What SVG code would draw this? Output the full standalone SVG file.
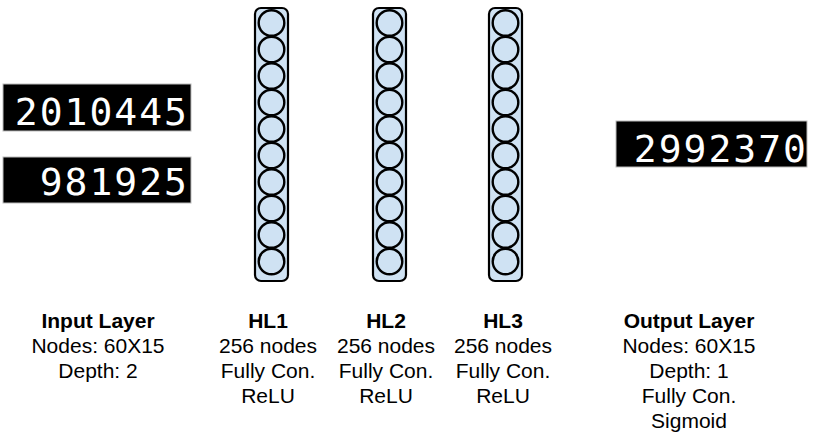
<svg xmlns="http://www.w3.org/2000/svg" width="814" height="440" viewBox="0 0 814 440">
<defs>
<style>
.box{fill:#000;stroke:#bbb;stroke-width:1}
.dig{font-family:"DejaVu Sans Mono","Liberation Mono",monospace;font-size:38px;letter-spacing:2px;fill:#fff;text-anchor:end}
.col{fill:#cfe2f3;stroke:#000;stroke-width:2.2}
.c{fill:none;stroke:#000;stroke-width:2.4}
.lbl{font-family:"Liberation Sans",Arial,sans-serif;font-size:21px;fill:#000;text-anchor:middle}
.b{font-weight:bold}
</style>
<g id="neurons">
<circle class="c" cx="0" cy="0" r="12.8"/>
</g>
</defs>
<rect width="814" height="440" fill="#fff"/>

<g id="input">
<rect class="box" x="3" y="84" width="188" height="47"/>
<text class="dig" x="189" y="125">2010445</text>
<rect class="box" x="3" y="157" width="188" height="46"/>
<text class="dig" x="189" y="195">981925</text>
<text class="lbl b" x="98" y="328">Input Layer</text>
<text class="lbl" x="98" y="353">Nodes: 60X15</text>
<text class="lbl" x="98" y="378">Depth: 2</text>
</g>

<g id="hl1">
<rect class="col" x="255" y="8" width="33" height="273" rx="6"/>
<g transform="translate(271.5,0)">
<use href="#neurons" y="23"/><use href="#neurons" y="49.5"/><use href="#neurons" y="76"/><use href="#neurons" y="102.5"/><use href="#neurons" y="129"/><use href="#neurons" y="155.5"/><use href="#neurons" y="182"/><use href="#neurons" y="208.5"/><use href="#neurons" y="235"/><use href="#neurons" y="261.5"/>
</g>
<text class="lbl b" x="268" y="328">HL1</text>
<text class="lbl" x="268" y="353">256 nodes</text>
<text class="lbl" x="268" y="378">Fully Con.</text>
<text class="lbl" x="268" y="403">ReLU</text>
</g>

<g id="hl2">
<rect class="col" x="373" y="8" width="33" height="273" rx="6"/>
<g transform="translate(389.5,0)">
<use href="#neurons" y="23"/><use href="#neurons" y="49.5"/><use href="#neurons" y="76"/><use href="#neurons" y="102.5"/><use href="#neurons" y="129"/><use href="#neurons" y="155.5"/><use href="#neurons" y="182"/><use href="#neurons" y="208.5"/><use href="#neurons" y="235"/><use href="#neurons" y="261.5"/>
</g>
<text class="lbl b" x="386" y="328">HL2</text>
<text class="lbl" x="386" y="353">256 nodes</text>
<text class="lbl" x="386" y="378">Fully Con.</text>
<text class="lbl" x="386" y="403">ReLU</text>
</g>

<g id="hl3">
<rect class="col" x="489" y="8" width="33" height="273" rx="6"/>
<g transform="translate(505.5,0)">
<use href="#neurons" y="23"/><use href="#neurons" y="49.5"/><use href="#neurons" y="76"/><use href="#neurons" y="102.5"/><use href="#neurons" y="129"/><use href="#neurons" y="155.5"/><use href="#neurons" y="182"/><use href="#neurons" y="208.5"/><use href="#neurons" y="235"/><use href="#neurons" y="261.5"/>
</g>
<text class="lbl b" x="503" y="328">HL3</text>
<text class="lbl" x="503" y="353">256 nodes</text>
<text class="lbl" x="503" y="378">Fully Con.</text>
<text class="lbl" x="503" y="403">ReLU</text>
</g>

<g id="output">
<rect class="box" x="616" y="121" width="191" height="46"/>
<text class="dig" x="808" y="162">2992370</text>
<text class="lbl b" x="689" y="328">Output Layer</text>
<text class="lbl" x="689" y="353">Nodes: 60X15</text>
<text class="lbl" x="689" y="378">Depth: 1</text>
<text class="lbl" x="689" y="403">Fully Con.</text>
<text class="lbl" x="689" y="428">Sigmoid</text>
</g>

<g id="connectors"></g>
</svg>
